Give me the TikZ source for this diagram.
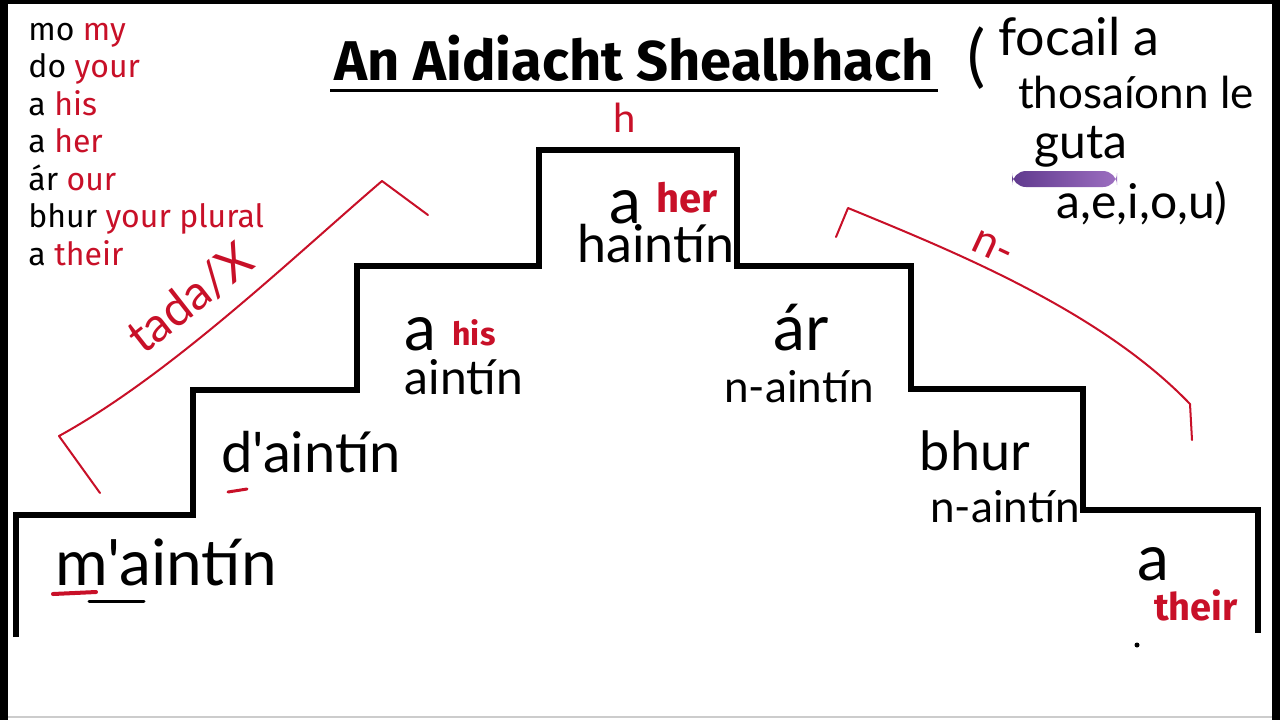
\documentclass[tikz,border=0pt]{standalone}
\usepackage{fontspec}
\setmainfont{Fira Sans}
\newfontfamily\handfont{Lato}
\usepackage{xcolor}
\definecolor{inkred}{RGB}{200,16,40}
\definecolor{glitterL}{RGB}{96,58,142}
\definecolor{glitterR}{RGB}{156,110,192}

\begin{document}
\begin{tikzpicture}[x=0.5pt,y=-0.5pt,
    hand/.style={font=\handfont\fontsize{#1}{#1}\selectfont, inner sep=0pt},
    redword/.style={text=inkred, inner sep=0pt, font=\bfseries\fontsize{#1}{#1}\selectfont},
    listtext/.style={anchor=base west, inner sep=0pt, font=\fontsize{16}{16}\selectfont},
    stair/.style={line width=3pt},
    pen/.style={draw=inkred, line width=1pt, line cap=round, line join=round}]
        \useasboundingbox (0,0) rectangle (1280,720);
        \fill[white] (0,0) rectangle (1280,720);
        \fill[black] (0,0) rectangle (8,720);
        \fill[black] (1272,0) rectangle (1280,720);
        \fill[black] (0,0) rectangle (1280,4);
        \draw[gray!40, line width=1pt] (8,717) -- (1272,717);

        \node[anchor=base, inner sep=0pt, font=\bfseries\fontsize{28}{28}\selectfont] (title) at (634,80) {An Aidiacht Shealbhach};
        \draw[line width=1.5pt] (330,90) -- (938,90);

        \foreach \ga/\en [count=\i] in {mo/my, do/your, a/his, a/her, ár/our, bhur/your plural, a/their}
            \node[listtext] (list\i) at (28, 40 + 37.5*\i - 37.5) {\ga\ \textcolor{inkred}{\en}};

        \draw[stair] (16,637) -- (16,515) -- (193,515) -- (193,390) -- (357,390) -- (357,266)
            -- (539,266) -- (539,150) -- (737,150) -- (737,266) -- (911,266) -- (911,389)
            -- (1083,389) -- (1083,510) -- (1258,510) -- (1258,633);

        % top step
        \node[hand=20, text=inkred, anchor=base] (hmark) at (625,132) {h};
        \node[hand=32, anchor=base] (aher) at (625,223) {a};
        \node[redword=20, anchor=base] (her) at (687,212) {her};
        \node[hand=26, anchor=base] (haintin) at (656,262) {haintín};

        % left steps
        \node[hand=32, anchor=base] (ahis) at (420,350) {a};
        \node[redword=16, anchor=base] (his) at (474,345) {his};
        \node[hand=24, anchor=base] (aintin) at (464,394) {aintín};
        \node[hand=28, anchor=base] (daintin) at (311,472) {d'aintín};
        \draw[inkred, line width=1.5pt, line cap=round] (228,492) -- (247,489);
        \node[hand=32, anchor=base] (maintin) at (166,585) {m'aintín};
        \draw[inkred, line width=2pt, line cap=round] (53,594) -- (96,592);
        \draw[line width=1.5pt, line cap=round] (89,601) -- (144,601);

        % right steps
        \node[hand=32, anchor=base] (ar) at (801,350) {ár};
        \node[hand=22, anchor=base] (naintinA) at (799,402) {n-aintín};
        \node[hand=27, anchor=base] (bhur) at (975,470) {bhur};
        \node[hand=22, anchor=base] (naintinB) at (1005,522) {n-aintín};
        \node[hand=32, anchor=base] (atheir) at (1153,580) {a};
        \node[redword=19, anchor=base] (their) at (1196,620) {their};
        \fill (1137,645) circle (2.5);

        % red brackets
        \draw[pen] (100,493) -- (59,436) .. controls (170,375) and (290,260) .. (382,181) -- (428,215);
        \node[hand=24, text=inkred, rotate=38] (tada) at (190,298) {tada/X};
        \draw[pen] (836,237) -- (848,208) .. controls (950,250) and (1100,310) .. (1190,404) -- (1192,440);
        \node[hand=22, text=inkred, rotate=-25] (nmark) at (993,248) {n-};

        % note top right
        \node[hand=34] (paren) at (977,58) {(};
        \node[hand=26, anchor=base] (focail) at (1079,55) {focail a};
        \node[hand=22, anchor=base] (thosaionn) at (1136,108) {thosaíonn le};
        \node[hand=24, anchor=base] (guta) at (1081,158) {guta};
        \shade[left color=glitterL, right color=glitterR, rounded corners=7] (1012,171) rectangle (1117,187);
        \node[hand=24, anchor=base] (vowels) at (1142,218) {a,e,i,o,u)};
\end{tikzpicture}
\end{document}
